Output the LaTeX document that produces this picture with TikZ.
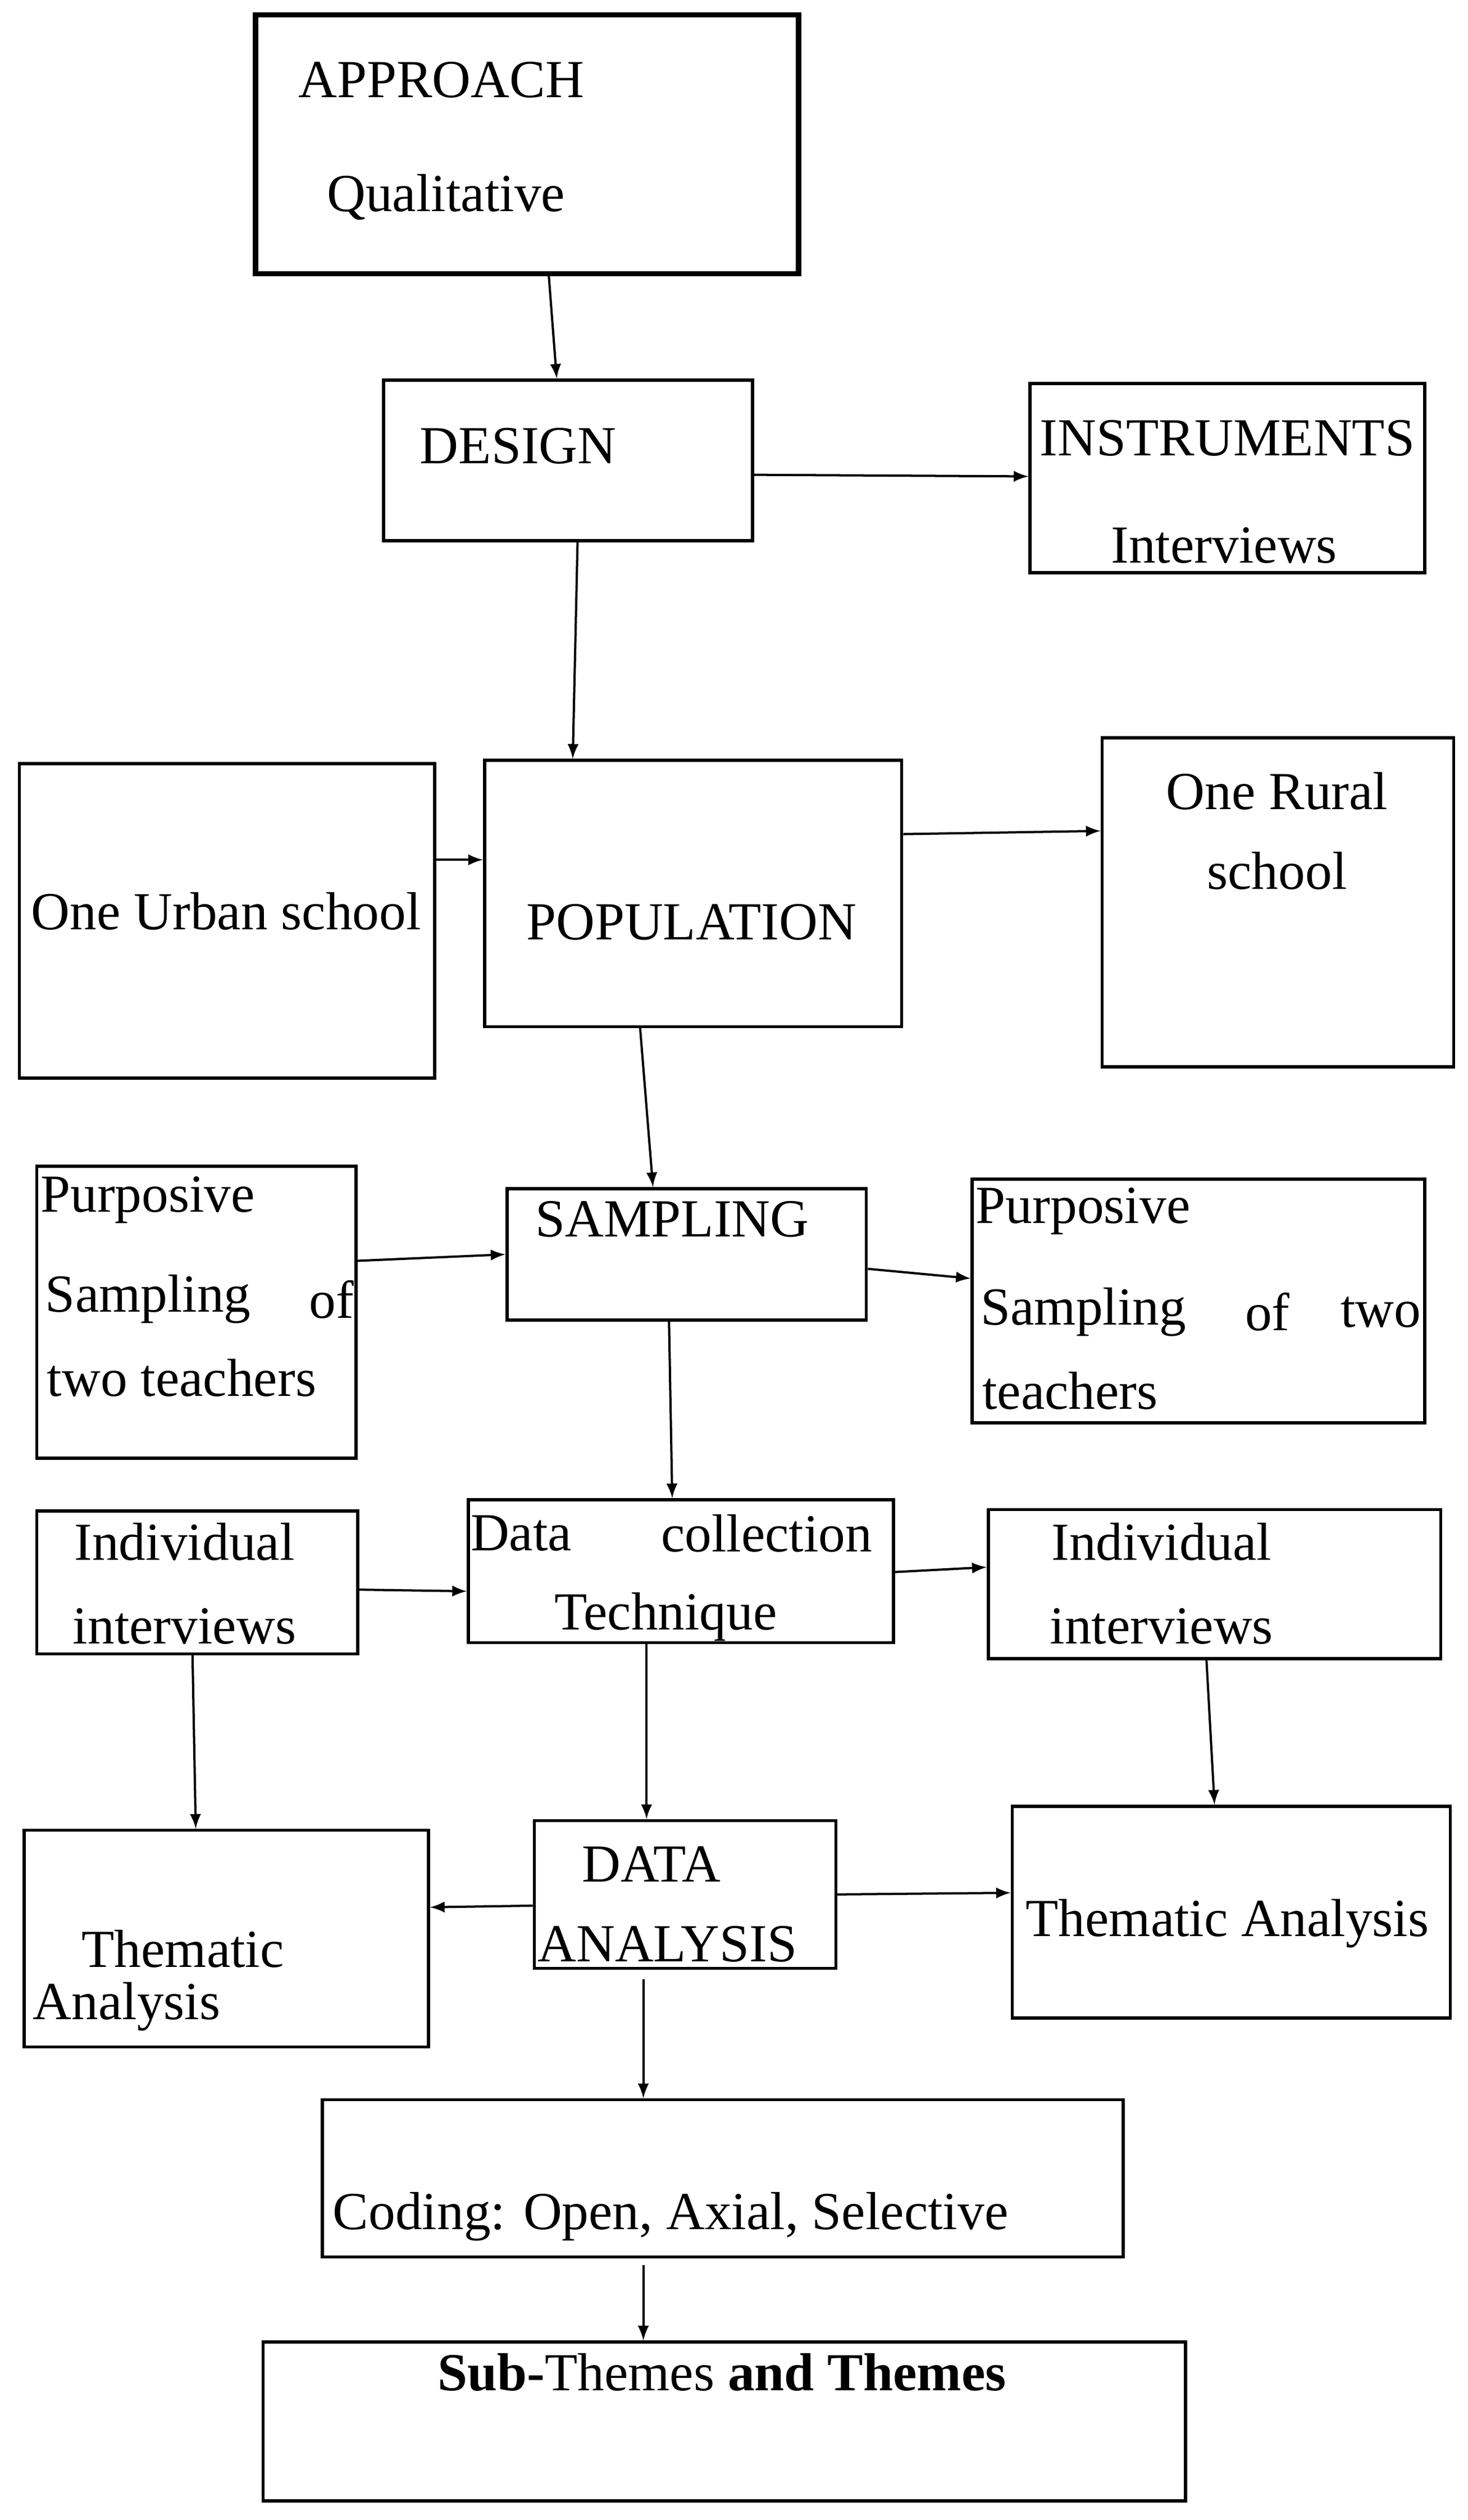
\documentclass[tikz,border=0pt]{standalone}
\usepackage{fontspec}
\setmainfont{Liberation Serif}
\begin{document}
\begin{tikzpicture}[x=0.02cm,y=-0.02cm,
    box/.style={draw, line width=1.1pt, inner sep=0pt},
    txt/.style={inner sep=0pt, font=\fontsize{19}{22}\selectfont},
    arr/.style={-latex, line width=0.8pt}]
  \useasboundingbox (0,0) rectangle (915,1571);
  % boxes: name / corners
  \foreach \name/\xa/\ya/\xb/\yb in {
      approach/160/10/497/170, design/239/237/469/337,
      instr/642/239/888/357, urban/12/476/271/672,
      popul/302/474/562/640, rural/687/460/906/665,
      purpl/23/727/222/909, sampl/316/741/540/823,
      purpr/606/735/888/887, indivl/23/942/223/1031,
      dcoll/292/935/557/1024, indivr/616/941/898/1034,
      thematl/15/1141/267/1276, danal/333/1135/521/1227,
      thematr/631/1126/904/1258, coding/201/1309/700/1407,
      themes/164/1460/739/1559}
  {
    \node[box, fit/.style={}, minimum width={(\xb-\xa)*0.02cm}, minimum height={(\yb-\ya)*0.02cm}]
      (\name) at ({(\xa+\xb)/2},{(\ya+\yb)/2}) {};
  }
  \draw[line width=1.6pt] (approach.north west) rectangle (approach.south east);
  % texts
  \node[txt] (t_app) at (275,50) {APPROACH};
  \node[txt] (t_qual) at (278,123) {Qualitative};
  \node[txt] (t_des) at (323,278) {DESIGN};
  \node[txt] (t_ins) at (765,273) {INSTRUMENTS};
  \node[txt] (t_int) at (763,340) {Interviews};
  \node[txt] (t_urb) at (141,568) {One Urban school};
  \node[txt] (t_pop) at (431,575) {POPULATION};
  \node[txt] (t_rur1) at (796,493) {One Rural};
  \node[txt] (t_rur2) at (796,543) {school};
  \node[txt, anchor=west] (t_pl1) at (25,748) {Purposive};
  \node[txt, anchor=west] (t_pl2) at (28,810) {Sampling};
  \node[txt, anchor=east] (t_pl3) at (221,810) {of};
  \node[txt, anchor=west] (t_pl4) at (29,859) {two teachers};
  \node[txt] (t_sam) at (419,760) {SAMPLING};
  \node[txt, anchor=west] (t_pr1) at (608,755) {Purposive};
  \node[txt, anchor=west] (t_pr2) at (611,818) {Sampling};
  \node[txt] (t_pr3) at (790,818) {of};
  \node[txt, anchor=east] (t_pr4) at (886,818) {two};
  \node[txt, anchor=west] (t_pr5) at (612,867) {teachers};
  \node[txt] (t_il1) at (115,961) {Individual};
  \node[txt] (t_il2) at (115,1014) {interviews};
  \node[txt, anchor=west] (t_dc1) at (293,956) {Data};
  \node[txt, anchor=east] (t_dc2) at (544,956) {collection};
  \node[txt] (t_dc3) at (415,1008) {Technique};
  \node[txt] (t_ir1) at (724,961) {Individual};
  \node[txt] (t_ir2) at (724,1014) {interviews};
  \node[txt] (t_tl1) at (114,1215) {Thematic};
  \node[txt] (t_tl2) at (79,1251) {Analysis};
  \node[txt] (t_da1) at (406,1162) {DATA};
  \node[txt] (t_da2) at (416,1212) {ANALYSIS};
  \node[txt] (t_tr) at (765,1199) {Thematic Analysis};
  \node[txt] (t_cod) at (418,1382) {Coding: Open, Axial, Selective};
  \node[txt] (t_the) at (450,1479) {\textbf{Sub-}Themes \textbf{and Themes}};
  % connectors
  \draw[arr] (approach.south -| 342,0) -- (design.north -| 347,0);
  \draw[arr] (design.east |- 0,296) -- (instr.west |- 0,297);
  \draw[arr] (design.south -| 360,0) -- (popul.north -| 357,0);
  \draw[arr] (urban.east |- 0,536) -- (popul.west |- 0,536);
  \draw[arr] (popul.east |- 0,520) -- (rural.west |- 0,518);
  \draw[arr] (popul.south -| 399,0) -- (sampl.north -| 407,0);
  \draw[arr] (purpl.east |- 0,786) -- (sampl.west |- 0,782);
  \draw[arr] (sampl.east |- 0,791) -- (purpr.west |- 0,797);
  \draw[arr] (sampl.south -| 417,0) -- (dcoll.north -| 419,0);
  \draw[arr] (indivl.east |- 0,991) -- (dcoll.west |- 0,992);
  \draw[arr] (dcoll.east |- 0,980) -- (indivr.west |- 0,977);
  \draw[arr] (indivl.south -| 120,0) -- (thematl.north -| 122,0);
  \draw[arr] (indivr.south -| 752,0) -- (thematr.north -| 757,0);
  \draw[arr] (dcoll.south -| 403,0) -- (danal.north -| 403,0);
  \draw[arr] (danal.west |- 0,1188) -- (thematl.east |- 0,1189);
  \draw[arr] (danal.east |- 0,1181) -- (thematr.west |- 0,1180);
  \draw[arr] (danal.south -| 401,0) ++(0,6) -- (coding.north -| 401,0);
  \draw[arr] (coding.south -| 401,0) ++(0,4) -- (themes.north -| 401,0);
\end{tikzpicture}
\end{document}
